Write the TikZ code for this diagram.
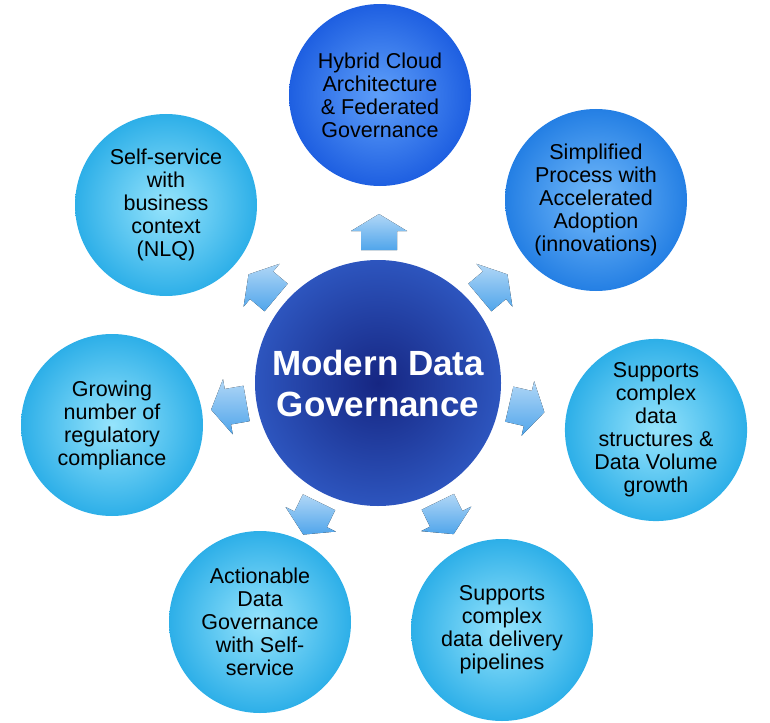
\documentclass[tikz,border=0pt]{standalone}
\usepackage{fontspec}
\setmainfont{Liberation Sans}
\usetikzlibrary{calc}
\definecolor{cyanin}{RGB}{150,228,252}
\definecolor{cyanout}{RGB}{45,175,232}
\definecolor{bluein}{RGB}{95,160,250}
\definecolor{blueout}{RGB}{30,95,225}
\definecolor{navyin}{RGB}{22,38,130}
\definecolor{navyout}{RGB}{45,85,190}
\definecolor{arrowc}{RGB}{80,165,235}
\begin{document}
\begin{tikzpicture}[x=1pt,y=-1pt,
  outer/.style={circle,inner color=cyanin,outer color=cyanout,minimum size=182pt,inner sep=0pt,
    align=center,font=\fontsize{21.5}{23}\selectfont,text=black},
  topc/.style={outer,inner color=bluein,outer color=blueout},
  center/.style={circle,inner color=navyin,outer color=navyout,minimum size=246pt,inner sep=0pt,align=center,
    font=\fontsize{35}{41}\selectfont\bfseries,text=white},
  blkarrow/.pic={\fill[left color=arrowc!45!white,right color=arrowc,shading angle=0]
     (-17,-18)--(-17,18)--(2,18)--(2,28)--(19,0)--(2,-28)--(2,-18)--cycle;}]
\useasboundingbox (0,0) rectangle (770,722);
\node[center] (c) at (378,383) {Modern Data\\Governance};
\node[topc] (t) at (380,95) {Hybrid Cloud\\Architecture\\\& Federated\\Governance};
\node[outer,inner color=bluein!60!cyanin,outer color=blueout!60!cyanout] (tr) at (596,200) {Simplified\\Process with\\Accelerated\\Adoption\\(innovations)};
\node[outer] (r) at (656,430) {Supports\\complex\\data\\structures \&\\Data Volume\\growth};
\node[outer] (br) at (502,630) {Supports\\complex\\data delivery\\pipelines};
\node[outer] (bl) at (260,622) {Actionable\\Data\\Governance\\with Self-\\service};
\node[outer] (l) at (112,425) {Growing\\number of\\regulatory\\compliance};
\node[outer] (tl) at (166,205) {Self-service\\with\\business\\context\\(NLQ)};
\foreach \o/\a in {t/90,tr/40,r/-13,br/-64,bl/-116,l/190,tl/140}
  \pic[rotate=\a] at ($(c)!150pt!(\o)$) {blkarrow};
\end{tikzpicture}
\end{document}
